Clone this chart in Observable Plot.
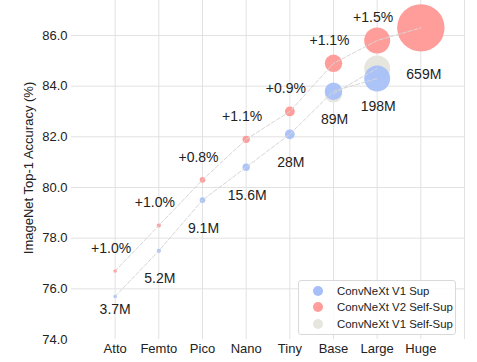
<!DOCTYPE html>
<html>
<head>
<meta charset="utf-8">
<script src="https://cdn.jsdelivr.net/npm/d3@7"></script>
<script src="https://cdn.jsdelivr.net/npm/@observablehq/plot@0.6"></script>
<style>
  html, body { margin: 0; padding: 0; background: #fff; }
  #wrap { position: relative; width: 477px; height: 362px; font-family: "Liberation Sans", Arial, Helvetica, sans-serif; }
  #legend { position: absolute; left: 298px; top: 280px; width: 158px; height: 55px; border: 1px solid #d9d9d9; border-radius: 3px; background: rgba(255,255,255,0.85); box-sizing: border-box; }
  .row { position: absolute; left: 0; height: 16px; font-size: 11.4px; color: #222; line-height: 16px; white-space: nowrap; }
  .sw { position: absolute; left: 14px; top: 3px; width: 10px; height: 10px; border-radius: 50%; }
  .lbl { position: absolute; left: 38px; top: 0; }
</style>
</head>
<body>
<div id="wrap"></div>
<script>
const categories = ["Atto", "Femto", "Pico", "Nano", "Tiny", "Base", "Large", "Huge"];
const params = [3.7, 5.2, 9.1, 15.6, 28, 89, 198, 659];
const paramLabels = ["3.7M", "5.2M", "9.1M", "15.6M", "28M", "89M", "198M", "659M"];
const v1Sup = [75.7, 77.5, 79.5, 80.8, 82.1, 83.8, 84.3, null];
const v2SelfSup = [76.7, 78.5, 80.3, 81.9, 83.0, 84.9, 85.8, 86.3];
const v1SelfSup = [null, null, null, null, null, 83.7, 84.7, null];
const gains = ["+1.0%", "+1.0%", "+0.8%", "+1.1%", "+0.9%", "+1.1%", "+1.5%", null];
const seriesNames = ["ConvNeXt V1 Sup", "ConvNeXt V2 Self-Sup", "ConvNeXt V1 Self-Sup"];
const yTicks = [74, 76, 78, 80, 82, 84, 86];

const colors = {"ConvNeXt V1 Sup": "#a6bff9", "ConvNeXt V2 Self-Sup": "#ff9d9b", "ConvNeXt V1 Self-Sup": "#e6e5de"};

function rows(values, name) {
  return values.map((v, i) => ({i, cat: categories[i], value: v, params: params[i], series: name}))
               .filter(d => d.value != null);
}
const blue = rows(v1Sup, seriesNames[0]);
const red = rows(v2SelfSup, seriesNames[1]);
const grey = rows(v1SelfSup, seriesNames[2]);

const gainRows = categories.map((c, i) => ({i, text: gains[i], value: v2SelfSup[i]})).filter(d => d.text);
const paramRows = categories.map((c, i) => ({
  i, text: paramLabels[i],
  value: v1Sup[i] != null ? v1Sup[i] : v2SelfSup[i]
}));
// label groups: first (close below), regular, and the one without a V1 point
const paramFirst = paramRows.filter(d => d.i === 0);
const paramMid = paramRows.filter(d => d.i > 0 && v1Sup[d.i] != null);
const paramLast = paramRows.filter(d => v1Sup[d.i] == null);

const chart = Plot.plot({
  width: 477,
  height: 362,
  marginLeft: 71,
  marginRight: 13,
  marginTop: 0,
  marginBottom: 23,
  style: {fontFamily: "'Liberation Sans', Arial, Helvetica, sans-serif", fontSize: "13px", color: "#222", background: "transparent", overflow: "visible"},
  x: {type: "linear", domain: [-1, 8]},
  y: {domain: [74, 87.38]},
  r: {type: "sqrt", domain: [0, 659], range: [0, 23.7]},
  marks: [
    Plot.gridX({ticks: [0, 1, 2, 3, 4, 5, 6, 7, 8], stroke: "#e2e2e2", strokeOpacity: 1, strokeWidth: 1}),
    Plot.gridY({ticks: yTicks.slice(1), stroke: "#e2e2e2", strokeOpacity: 1, strokeWidth: 1}),
    Plot.axisX({ticks: [0, 1, 2, 3, 4, 5, 6, 7], tickFormat: i => categories[i], tickSize: 0, tickPadding: 4, label: null, fontSize: 13}),
    Plot.axisY({ticks: yTicks, tickFormat: d => d.toFixed(1), tickSize: 0, tickPadding: 4, label: null, fontSize: 13}),
    Plot.text(["ImageNet Top-1 Accuracy (%)"], {frameAnchor: "left", textAnchor: "middle", rotate: -90, dx: -43, dy: -2, fontSize: 13, fill: "#222"}),
    Plot.dot(grey, {x: "i", y: "value", r: "params", fill: colors[seriesNames[2]], fillOpacity: 1, stroke: "none"}),
    Plot.dot(blue, {x: "i", y: "value", r: "params", fill: colors[seriesNames[0]], fillOpacity: 0.92, stroke: "none"}),
    Plot.dot(red, {x: "i", y: "value", r: "params", fill: colors[seriesNames[1]], fillOpacity: 1, stroke: "none"}),
    Plot.line(blue, {x: "i", y: "value", stroke: "#d6d6d6", strokeWidth: 1, strokeDasharray: "4,2"}),
    Plot.line(red, {x: "i", y: "value", stroke: "#d6d6d6", strokeWidth: 1, strokeDasharray: "4,2"}),
    Plot.line(grey, {x: "i", y: "value", stroke: "#d6d6d6", strokeWidth: 1, strokeDasharray: "4,2"}),
    Plot.text(gainRows, {x: "i", y: d => d.value + 0.9, text: "text", dx: -4, fontSize: 14, fill: "#222"}),
    Plot.text(paramFirst, {x: "i", y: "value", text: "text", dy: 13, fontSize: 14, fill: "#222"}),
    Plot.text(paramMid, {x: "i", y: "value", text: "text", dy: 28, dx: 1, fontSize: 14, fill: "#222"}),
    Plot.text(paramLast, {x: "i", y: "value", text: "text", dy: 47, dx: 3, fontSize: 14, fill: "#222"})
  ]
});

const wrap = document.getElementById("wrap");
wrap.appendChild(chart);

const legend = document.createElement("div");
legend.id = "legend";
seriesNames.forEach((name, k) => {
  const row = document.createElement("div");
  row.className = "row";
  row.style.top = (2 + k * 16.3) + "px";
  row.innerHTML = `<span class="sw" style="background:${colors[name]}"></span><span class="lbl">${name}</span>`;
  legend.appendChild(row);
});
wrap.appendChild(legend);
</script>
</body>
</html>
